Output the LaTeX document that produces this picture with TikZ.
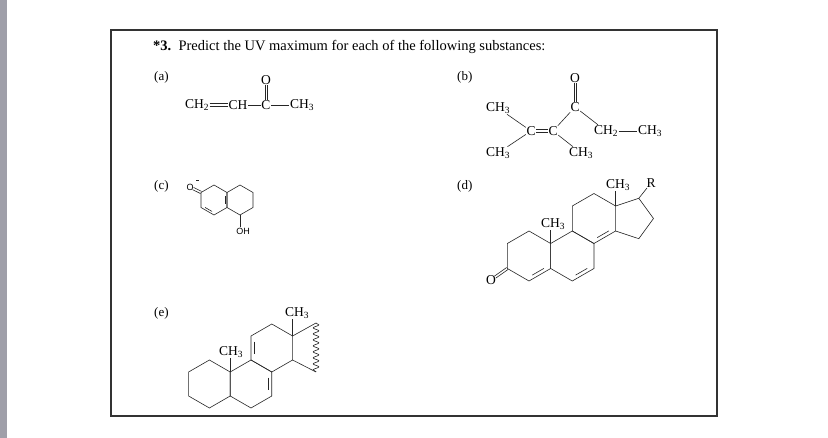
\documentclass[tikz,border=0pt]{standalone}
\usepackage{fontspec}
\setmainfont{Liberation Serif}
\newfontfamily\sansf{Liberation Sans}
\usetikzlibrary{calc,decorations.pathmorphing}
\tikzset{
  lbl/.style={inner sep=0.5pt, font=\fontsize{13.5}{14}\selectfont},
  tag/.style={inner sep=0pt, anchor=west, font=\fontsize{13}{14}\selectfont},
  bond/.style={line width=0.6pt, draw=black!85},
  wavy/.style={bond, decorate, decoration={snake, amplitude=2.8pt, segment length=6pt}}
}
\newcommand\hexring[4]{%
 \coordinate (#1c) at (#2,#3);
 \coordinate (#1t) at (#2,{#3-#4});
 \coordinate (#1ur) at ({#2+0.866*#4},{#3-0.5*#4});
 \coordinate (#1lr) at ({#2+0.866*#4},{#3+0.5*#4});
 \coordinate (#1b) at (#2,{#3+#4});
 \coordinate (#1ll) at ({#2-0.866*#4},{#3+0.5*#4});
 \coordinate (#1ul) at ({#2-0.866*#4},{#3-0.5*#4});
 \draw[bond] (#1t)--(#1ur)--(#1lr)--(#1b)--(#1ll)--(#1ul)--cycle;}
\newcommand\innerdb[3]{\draw[bond] ($(#1)!.18!(#2)!.16!(#3)$) -- ($(#2)!.18!(#1)!.16!(#3)$);}
\newcommand\dbond[2]{%
 \draw[bond] ($(#1)!1.2pt!90:(#2)$) -- ($(#2)!1.2pt!-90:(#1)$);
 \draw[bond] ($(#1)!1.2pt!-90:(#2)$) -- ($(#2)!1.2pt!90:(#1)$);}
\begin{document}
\begin{tikzpicture}[x=1pt,y=-1pt]
\useasboundingbox (0,0) rectangle (828,438);
\fill[white] (0,0) rectangle (828,438);
\fill[black!30!blue!8!gray!70] (0,0) rectangle (7,438);
\draw[line width=1.3pt, draw=black!80] (111,30) rectangle (717,416);
\node[tag, font=\fontsize{14.5}{15}\selectfont] (title) at (153,47) {\textbf{*3.}\ \ Predict the UV maximum for each of the following substances:};
\node[tag] (la) at (154,77) {(a)};
\node[tag] (lb) at (457,77) {(b)};
\node[tag] (lc) at (154,186) {(c)};
\node[tag] (ld) at (457,186) {(d)};
\node[tag] (le) at (154,313) {(e)};
% (a)
\node[lbl] (a1) at (197,105) {CH\textsubscript{2}};
\node[lbl] (a2) at (238,105) {CH};
\node[lbl] (a3) at (266,105) {C};
\node[lbl] (a4) at (302,105) {CH\textsubscript{3}};
\node[lbl] (ao) at (266,80) {O};
\dbond{a1.east}{a2.west}
\draw[bond] (a2) -- (a3);
\draw[bond] (a3) -- (a4);
\dbond{a3.north}{ao.south}
% (b)
\node[lbl] (b1) at (498,108) {CH\textsubscript{3}};
\node[lbl] (b2) at (498,153) {CH\textsubscript{3}};
\node[lbl] (bc1) at (531,131) {C};
\node[lbl] (bc2) at (553,131) {C};
\node[lbl] (bc3) at (575,107) {C};
\node[lbl] (bo) at (575,78) {O};
\node[lbl] (b3) at (581,153) {CH\textsubscript{3}};
\node[lbl] (b4) at (606,131) {CH\textsubscript{2}};
\node[lbl] (b5) at (650,131) {CH\textsubscript{3}};
\draw[bond] (b1) -- (bc1);
\draw[bond] (b2) -- (bc1);
\dbond{bc1.east}{bc2.west}
\draw[bond] (bc2) -- (bc3);
\draw[bond] (bc2) -- (b3);
\dbond{bc3.north}{bo.south}
\draw[bond] (bc3) -- (b4);
\draw[bond] (b4) -- (b5);
% (c)
\hexring{cA}{214}{200}{15}
\hexring{cB}{240}{200}{15}
\innerdb{cAll}{cAb}{cAc}
\innerdb{cAur}{cAlr}{cAc}
\node[inner sep=0.5pt, font=\sansf\fontsize{9}{9}\selectfont] (co) at (190,187) {O};
\draw[bond] (196,180) -- (199,180);
\coordinate (coe) at ($(cAul)!0.72!(co)$);
\dbond{cAul}{coe}
\node[inner sep=0.5pt, font=\sansf\fontsize{9}{9}\selectfont] (coh) at (243,231) {OH};
\draw[bond] (cBb) -- (coh.north -| cBb);
% (d)
\hexring{dA}{529}{256}{25}
\hexring{dB}{572.3}{256}{25}
\hexring{dC}{593.95}{218.5}{25}
\coordinate (d17) at (638.8,198.3);
\coordinate (d16) at (653.5,218.5);
\coordinate (d15) at (638.8,238.7);
\draw[bond] (dCur) -- (d17) -- (d16) -- (d15) -- (dClr);
\innerdb{dAb}{dAlr}{dAc}
\innerdb{dBb}{dBlr}{dBc}
\innerdb{dClr}{dCb}{dCc}
\node[lbl] (do) at (491,280) {O};
\coordinate (doe) at ($(dAll)!0.75!(do)$);
\dbond{dAll}{doe}
\node[lbl] (dm1) at (553,224) {CH\textsubscript{3}};
\draw[bond] (dAur) -- (dm1.south -| dAur);
\node[lbl] (dm2) at (618,185) {CH\textsubscript{3}};
\draw[bond] (dCur) -- (dm2.south -| dCur);
\node[lbl] (dr) at (651,183) {R};
\draw[bond] (d17) -- (dr);
% (e)
\hexring{eA}{209.4}{384}{24}
\hexring{eB}{251}{384}{24}
\hexring{eC}{271.8}{348}{24}
\innerdb{eCul}{eCll}{eCc}
\innerdb{eBur}{eBlr}{eBc}
\node[lbl] (em1) at (231,352) {CH\textsubscript{3}};
\draw[bond] (eAur) -- (em1.south -| eAur);
\node[lbl] (em2) at (297,313) {CH\textsubscript{3}};
\draw[bond] (eCur) -- (em2.south -| eCur);
\coordinate (w1) at (316,323);
\coordinate (w2) at (316,372);
\draw[bond] (eCur) -- (w1);
\draw[bond] (eClr) -- (w2);
\draw[wavy] (w1) -- (w2);
\end{tikzpicture}
\end{document}
